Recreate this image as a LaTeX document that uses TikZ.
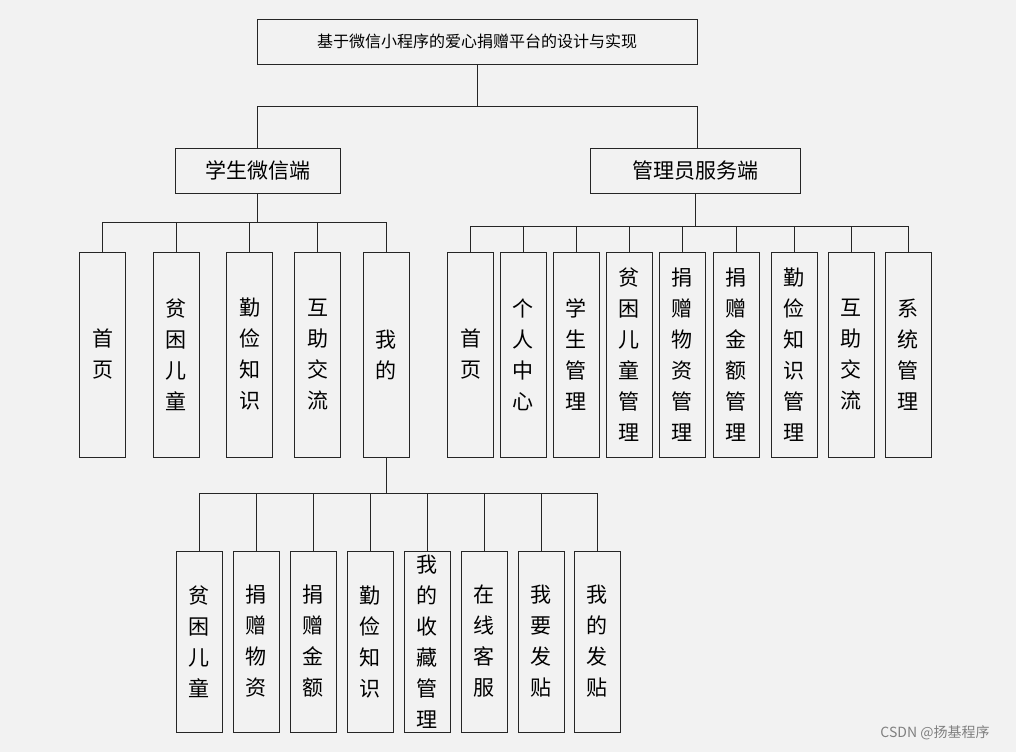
\documentclass[tikz,border=0pt]{standalone}
\usepackage{fontspec}
\newfontfamily\cjk{Noto Sans CJK SC}
\begin{document}
\begin{tikzpicture}[x=1pt,y=-1pt,
  bx/.style={draw=black!85,line width=0.8pt,fill=bg,inner sep=0pt,font=\cjk\fontsize{21}{31}\selectfont,align=center},
  ln/.style={draw=black!85,line width=0.8pt}]
\definecolor{bg}{HTML}{F2F2F2}
\fill[bg] (0,0) rectangle (1016,752);
\useasboundingbox (0,0) rectangle (1016,752);
\node[bx,minimum width=440pt,minimum height=45pt,font=\cjk\fontsize{16}{20}\selectfont] (t) at (477,41.5) {基于微信小程序的爱心捐赠平台的设计与实现};
\node[bx,minimum width=165pt,minimum height=45pt,font=\cjk\fontsize{21}{26}\selectfont] (s) at (257.5,170.5) {学生微信端};
\node[bx,minimum width=210pt,minimum height=45pt,font=\cjk\fontsize{21}{26}\selectfont] (a) at (695,170.5) {管理员服务端};
\coordinate (t1) at (477,106);
\draw[ln] (t.south) -- (t1) (257,106) -- (697,106) (257,106) -- (257,148) (697,106) -- (697,148);
% student
\draw[ln] (257,193) -- (257,222) (102,222) -- (386,222);
\foreach \n/\x/\t in {s1/102.5/首\\页, s2/176/贫\\困\\儿\\童, s3/249.5/勤\\俭\\知\\识, s4/317.5/互\\助\\交\\流, s5/386/我\\的}{
  \node[bx,minimum width=46pt,minimum height=205pt] (\n) at (\x,354.5) {\t};
  \draw[ln] (\x,222) -- (\n.north);
}
% admin
\draw[ln] (695,193) -- (695,226) (470,226) -- (908,226);
\foreach \n/\x/\t in {a1/470.5/首\\页, a2/523/个\\人\\中\\心, a3/576/学\\生\\管\\理, a4/629/贫\\困\\儿\\童\\管\\理, a5/682/捐\\赠\\物\\资\\管\\理, a6/736/捐\\赠\\金\\额\\管\\理, a7/794/勤\\俭\\知\\识\\管\\理, a8/851/互\\助\\交\\流, a9/908/系\\统\\管\\理}{
  \node[bx,minimum width=46pt,minimum height=205pt] (\n) at (\x,354.5) {\t};
  \draw[ln] (\x,226) -- (\n.north);
}
% my
\draw[ln] (s5.south) -- (386,493) (199,493) -- (597,493);
\foreach \n/\x/\t in {m1/199/贫\\困\\儿\\童, m2/256/捐\\赠\\物\\资, m3/313/捐\\赠\\金\\额, m4/370/勤\\俭\\知\\识, m5/427/我\\的\\收\\藏\\管\\理, m6/484/在\\线\\客\\服, m7/541/我\\要\\发\\贴, m8/597/我\\的\\发\\贴}{
  \node[bx,minimum width=46pt,minimum height=181pt] (\n) at (\x,641.5) {\t};
  \draw[ln] (\x,493) -- (\n.north);
}
\node[font=\cjk\fontsize{14}{16}\selectfont,text=black!50] (w) at (935,733) {CSDN @扬基程序};
\end{tikzpicture}
\end{document}
